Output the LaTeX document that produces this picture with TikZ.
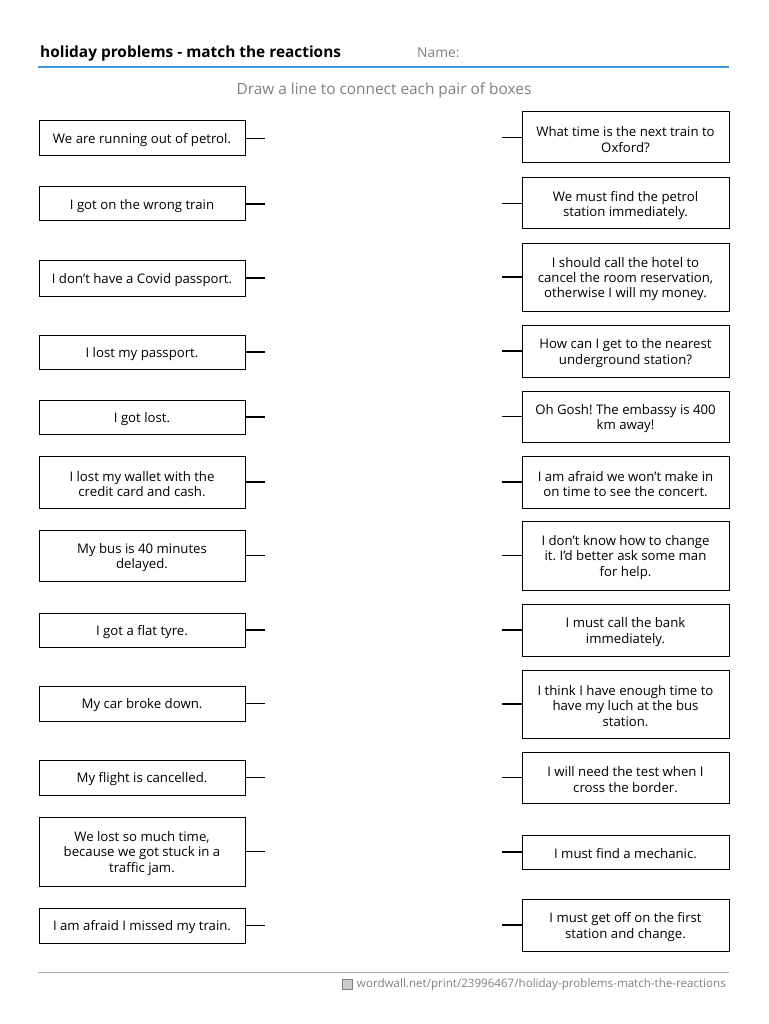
\documentclass[tikz,border=0pt]{standalone}
\usepackage{fontspec}
\setmainfont{Open Sans}
\frenchspacing
\begin{document}
\begin{tikzpicture}[x=1pt,y=-1pt,
 box/.style={draw,line width=1pt,align=center,font=\fontsize{13.2}{15.2}\selectfont,inner sep=0pt},
 stub/.style={line width=1.6pt}]
\useasboundingbox (0,0) rectangle (768,1024);
\node[anchor=west,font=\bfseries\fontsize{15.4}{17}\selectfont,inner sep=0pt] (title) at (40,54) {holiday problems - match the reactions};
\node[anchor=west,text=gray,font=\fontsize{13.8}{15}\selectfont,inner sep=0pt] (name) at (417,53) {Name:};
\draw[cyan!70!blue!80,line width=1.2pt] (38,67) coordinate (h1) -- (729,67) coordinate (h2);
\node[text=gray,font=\fontsize{15.4}{17}\selectfont] (sub) at (384,90) {Draw a line to connect each pair of boxes};
\draw[gray!70,line width=0.8pt] (38,972) coordinate (f1) -- (729,972) coordinate (f2);
\node[anchor=east,text=gray,font=\fontsize{11.6}{13}\selectfont,inner sep=0pt] (url) at (726,984) {wordwall.net/print/23996467/holiday-problems-match-the-reactions};
\node[draw=gray,fill=gray!40,minimum size=10pt,inner sep=0pt,anchor=east] (ic) at ([xshift=-4pt]url.west) {};
\newcommand\lbox[4]{\node[box,minimum width=206pt,minimum height=#3pt-#2pt] (L#1) at (142,{(#2+#3)/2}) {\raisebox{-2pt}[\height][\depth]{\parbox{198pt}{\centering #4}}};
 \coordinate (Ls#1) at (265,{(#2+#3)/2}); \draw[stub] (L#1.east) -- (Ls#1);}
\newcommand\rbox[4]{\node[box,minimum width=207pt,minimum height=#3pt-#2pt] (R#1) at (625.5,{(#2+#3)/2}) {\raisebox{-2pt}[\height][\depth]{\parbox{198pt}{\centering #4}}};
 \coordinate (Rs#1) at (502,{(#2+#3)/2}); \draw[stub] (Rs#1) -- (R#1.west);}
\lbox{1}{121}{156}{We are running out of petrol.}
\lbox{2}{187}{221}{I got on the wrong train}
\lbox{3}{260}{296}{I don't have a Covid passport.}
\lbox{4}{335}{369}{I lost my passport.}
\lbox{5}{400}{434}{I got lost.}
\lbox{6}{456}{508}{I lost my wallet with the\\credit card and cash.}
\lbox{7}{530}{581}{My bus is 40 minutes\\delayed.}
\lbox{8}{613}{647}{I got a flat tyre.}
\lbox{9}{686}{721}{My car broke down.}
\lbox{10}{760}{795}{My flight is cancelled.}
\lbox{11}{817}{886}{We lost so much time,\\because we got stuck in a\\traffic jam.}
\lbox{12}{908}{943}{I am afraid I missed my train.}
\rbox{1}{112}{163}{What time is the next train to\\Oxford?}
\rbox{2}{178}{229}{We must find the petrol\\station immediately.}
\rbox{3}{243}{311}{I should call the hotel to\\cancel the room reservation,\\otherwise I will my money.}
\rbox{4}{325}{377}{How can I get to the nearest\\underground station?}
\rbox{5}{391}{442}{Oh Gosh! The embassy is 400\\km away!}
\rbox{6}{456}{508}{I am afraid we won't make in\\on time to see the concert.}
\rbox{7}{521}{590}{I don't know how to change\\it. I'd better ask some man\\for help.}
\rbox{8}{604}{656}{I must call the bank\\immediately.}
\rbox{9}{670}{738}{I think I have enough time to\\have my luch at the bus\\station.}
\rbox{10}{752}{803}{I will need the test when I\\cross the border.}
\rbox{11}{835}{869}{I must find a mechanic.}
\rbox{12}{899}{951}{I must get off on the first\\station and change.}
\end{tikzpicture}
\end{document}
